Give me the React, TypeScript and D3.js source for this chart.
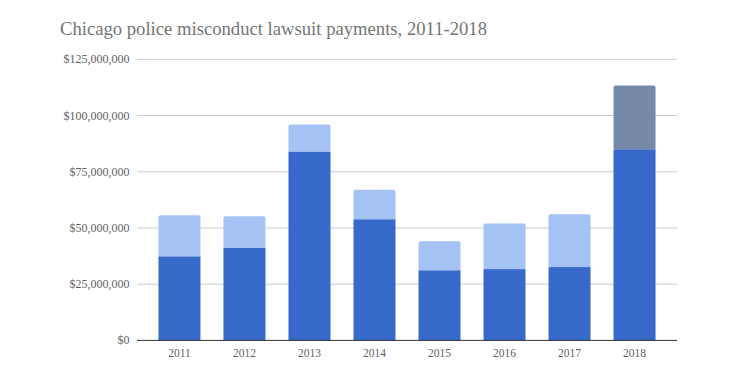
import React from "react";
import * as d3 from "d3";

const years = ["2011", "2012", "2013", "2014", "2015", "2016", "2017", "2018"];
const baseSeries = [37.4, 41.1, 84.0, 53.9, 31.2, 31.7, 32.6, 85.0];
const extraSeries = [18.2, 14.1, 12.0, 13.1, 12.9, 20.3, 23.5, 0];
const projectedSeries = [0, 0, 0, 0, 0, 0, 0, 28.4];
const yTicks = [0, 25, 50, 75, 100, 125];

const W = 747;
const H = 371;
const left = 137;
const right = 677;
const top = 59.3;
const bottom = 340.4;

const colors = ["#3669c9", "#a4c2f4", "#7689a9"];

function topRoundedRect(x: number, y: number, w: number, h: number, r: number) {
  return `M${x},${y + h}V${y + r}Q${x},${y} ${x + r},${y}H${x + w - r}Q${x + w},${y} ${x + w},${y + r}V${y + h}Z`;
}

export default function App() {
  const x = d3.scaleBand<string>().domain(years).range([left, right]).paddingInner(0.354).paddingOuter(0.33);
  const y = d3.scaleLinear().domain([0, 125]).range([bottom, top]);
  const fmt = (v: number) => "$" + d3.format(",")(v * 1000000);

  const stackData = years.map((yr, i) => ({ yr, a: baseSeries[i], b: extraSeries[i], c: projectedSeries[i] }));
  const stack = d3.stack<any>().keys(["a", "b", "c"])(stackData);

  return (
    <svg width={W} height={H} style={{ position: "absolute", left: 0, top: 0 }} fontFamily="'Liberation Serif', serif">
      <rect width={W} height={H} fill="#fff" />
      <text x={60} y={35} fontSize={19.5} fill="#757575" textLength={427} lengthAdjust="spacingAndGlyphs">
        Chicago police misconduct lawsuit payments, 2011-2018
      </text>
      {yTicks.map((t) => (
        <g key={t}>
          {t > 0 && <line x1={left} x2={right} y1={y(t)} y2={y(t)} stroke="#cccccc" strokeWidth={1} />}
          <text x={129.5} y={y(t) + 4} fontSize={12} fill="#5f5f5f" textAnchor="end">
            {fmt(t)}
          </text>
        </g>
      ))}
      {stack.map((layer, li) => (
        <g key={li} fill={colors[li]}>
          {layer.map((d, i) => {
            const v = d[1] - d[0];
            if (v <= 0) return null;
            const isTop = stack.slice(li + 1).every((l) => l[i][1] - l[i][0] <= 0);
            const bx = x(years[i])!;
            const bw = x.bandwidth();
            const y0 = y(d[0]);
            const y1 = y(d[1]);
            return isTop ? (
              <path key={i} d={topRoundedRect(bx, y1, bw, y0 - y1, 2)} />
            ) : (
              <rect key={i} x={bx} y={y1} width={bw} height={y0 - y1} />
            );
          })}
        </g>
      ))}
      <line x1={left} x2={right} y1={bottom} y2={bottom} stroke="#333333" strokeWidth={1} />
      {years.map((yr) => (
        <text key={yr} x={x(yr)! + x.bandwidth() / 2} y={357} fontSize={11.5} fill="#5f5f5f" textAnchor="middle">
          {yr}
        </text>
      ))}
    </svg>
  );
}
